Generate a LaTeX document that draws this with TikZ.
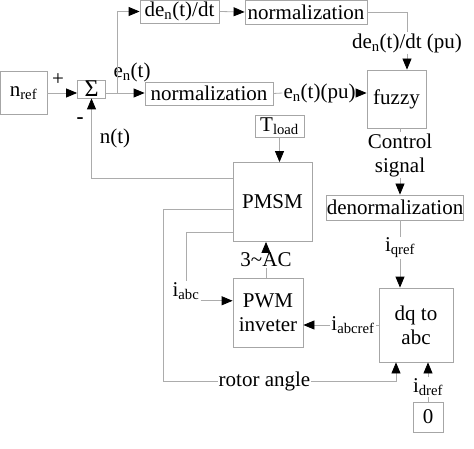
\documentclass[tikz,border=0pt]{standalone}
\usepackage{fontspec}
\setmainfont{Liberation Serif}
\usepackage{tikz}
\usetikzlibrary{positioning}
\usetikzlibrary{arrows.meta}
\tikzset{
  blk/.style={draw=gray!70, line width=0.8pt, inner sep=0pt, align=center, font=\fontsize{21}{24}\selectfont},
  lbl/.style={inner sep=1pt, align=center, font=\fontsize{21}{24}\selectfont},
  wire/.style={draw=gray!65, line width=0.8pt},
  arr/.style={wire, -{Triangle[length=11pt,width=9pt,color=black]}}
}

\begin{document}
\begin{tikzpicture}[x=1pt,y=-1pt]
            \useasboundingbox (0,0) rectangle (474,449);
            % Blocks
            \node[blk, minimum width=47pt, minimum height=43pt] (nref) at (23.5,93) {n\textsubscript{ref}};
            \node[blk, minimum width=28pt, minimum height=18pt] (sum) at (91.5,89) {\fontsize{24}{24}\selectfont Σ};
            \node[blk, minimum width=79pt, minimum height=23pt] (dedt) at (179.5,11.5) {de\textsubscript{n}(t)/dt};
            \node[blk, minimum width=122pt, minimum height=24pt] (dnorm) at (306,12) {normalization};
            \node[blk, minimum width=128pt, minimum height=23pt] (enorm) at (209,93.5) {normalization};
            \node[blk, minimum width=59pt, minimum height=58pt] (fuzzy) at (396.5,99) {fuzzy};
            \node[blk, minimum width=136pt, minimum height=25pt] (denorm) at (395,207.5) {denormalization};
            \node[blk, minimum width=49pt, minimum height=22pt] (tload) at (279.5,126) {T\textsubscript{load}};
            \node[blk, minimum width=79pt, minimum height=79pt] (pmsm) at (272.5,202) {PMSM};
            \node[blk, minimum width=70pt, minimum height=69pt] (pwm) at (268,313) {PWM\\inveter};
            \node[blk, minimum width=74pt, minimum height=74pt] (dq) at (416,325) {dq to\\abc};
            \node[blk, minimum width=30pt, minimum height=30pt] (zero) at (428,417) {0};
            % Signal labels
            \node[lbl] (plus) at (58,80) {+};
            \node[lbl] (minus) at (80,121) {\textbf{-}};
            \node[lbl] (en) at (132,72) {e\textsubscript{n}(t)};
            \node[lbl] (dpu) at (407,43) {de\textsubscript{n}(t)/dt (pu)};
            \node[lbl] (epu) at (319.5,93) {e\textsubscript{n}(t)(pu)};
            \node[lbl] (ctrl) at (400,155) {Control\\signal};
            \node[lbl] (iq) at (400,248) {i\textsubscript{qref}};
            \node[lbl] (iabcref) at (353,325) {i\textsubscript{abcref}};
            \node[lbl] (ac) at (266,260) {3\textasciitilde AC};
            \node[lbl] (nt) at (115,138) {n(t)};
            \node[lbl] (iabc) at (186,291) {i\textsubscript{abc}};
            \node[lbl] (rotor) at (264.5,381) {rotor angle};
            \node[lbl] (id) at (428,387) {i\textsubscript{dref}};
            \coordinate (split) at (117,93);
            \coordinate (rc) at (163,381);
            % Forward path
            \draw[arr] (nref.east) -- (nref.east -| sum.west);
            \draw[wire] (sum.east |- split) -- (split);
            \draw[arr] (split) -- (enorm.west |- split);
            \draw[arr] (split) |- (dedt.west);
            \draw[arr] (dedt.east) -- (dnorm.west);
            \draw[wire] (dnorm.east) -| (dpu.north);
            \draw[arr] (dpu.south) -- (dpu.south |- fuzzy.north);
            \draw[wire] (enorm.east) -- (epu.west);
            \draw[arr] (epu.east) -- (fuzzy.west |- epu.east);
            \draw[wire] (fuzzy.south -| ctrl.north) -- (ctrl.north);
            \draw[arr] (ctrl.south) -- (ctrl.south |- denorm.north);
            \draw[wire] (denorm.south -| iq.north) -- (iq.north);
            \draw[arr] (iq.south) -- (iq.south |- dq.north);
            \draw[wire] (dq.west |- iabcref.east) -- (iabcref.east);
            \draw[arr] (iabcref.west) -- (pwm.east |- iabcref.west);
            \draw[wire] (ac.south |- pwm.north) -- (ac.south);
            \draw[arr] (ac.north) -- (ac.north |- pmsm.south);
            \draw[arr] (tload.south) -- (tload.south |- pmsm.north);
            \draw[wire] (zero.north) -- (zero.north |- id.south);
            \draw[arr] (id.north) -- (id.north |- dq.south);
            % Feedback paths
            \draw[arr] ([yshift=24pt]pmsm.west) -| (sum.south);
            \draw[wire] ([yshift=-7pt]pmsm.west) -| (rc) -- (rotor.west);
            \draw[arr] (rotor.east) -| ([xshift=-20pt]dq.south);
            \draw[wire] ([yshift=-30pt]pmsm.west) -| (iabc.north);
            \draw[arr] (iabc.south east) -- (iabc.south east -| pwm.west);
\end{tikzpicture}
\end{document}
